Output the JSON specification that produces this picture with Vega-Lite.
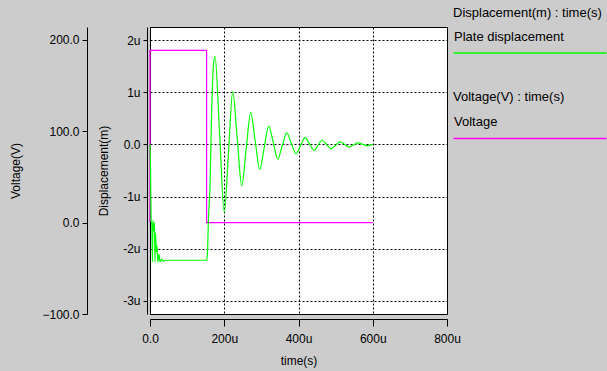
{
  "$schema": "https://vega.github.io/schema/vega-lite/v6.json",
  "width": 297,
  "height": 287,
  "autosize": {"type": "none"},
  "padding": {"left": 150, "top": 27, "right": 160, "bottom": 57},
  "background": "#cccccc",
  "config": {
    "view": {"fill": "#ffffff", "stroke": "#000000", "strokeWidth": 1},
    "font": "Liberation Sans",
    "axis": {
      "labelFont": "Liberation Sans", "titleFont": "Liberation Sans",
      "labelFontSize": 12, "titleFontSize": 12, "titleFontWeight": "normal",
      "labelColor": "#000000", "titleColor": "#000000",
      "domainColor": "#000000", "tickColor": "#000000",
      "gridColor": "#000000", "gridOpacity": 1, "gridDash": [2, 2], "gridWidth": 1
    },
    "legend": {
      "labelFont": "Liberation Sans", "titleFont": "Liberation Sans",
      "labelFontSize": 13, "titleFontSize": 13, "titleFontWeight": "normal",
      "labelColor": "#000000", "titleColor": "#000000", "padding": 0,
      "symbolOpacity": 1
    }
  },
  "datasets": {
    "voltage": [
      {"i": 0, "time_us": 0, "voltage_V": 0, "series": "Voltage"},
      {"i": 1, "time_us": 0, "voltage_V": 188.6, "series": "Voltage"},
      {"i": 2, "time_us": 152.5, "voltage_V": 188.6, "series": "Voltage"},
      {"i": 3, "time_us": 152.5, "voltage_V": 0, "series": "Voltage"},
      {"i": 4, "time_us": 600, "voltage_V": 0, "series": "Voltage"}
    ],
    "displacement": [
      {"i": 0, "time_us": 0, "disp_um": 0, "series": "Plate displacement"},
      {"i": 1, "time_us": 1.5, "disp_um": -0.5, "series": "Plate displacement"},
      {"i": 2, "time_us": 3, "disp_um": -1.45, "series": "Plate displacement"},
      {"i": 3, "time_us": 5, "disp_um": -1.55, "series": "Plate displacement"},
      {"i": 4, "time_us": 6.5, "disp_um": -2.25, "series": "Plate displacement"},
      {"i": 5, "time_us": 8, "disp_um": -1.45, "series": "Plate displacement"},
      {"i": 6, "time_us": 10, "disp_um": -1.65, "series": "Plate displacement"},
      {"i": 7, "time_us": 12, "disp_um": -1.5, "series": "Plate displacement"},
      {"i": 8, "time_us": 13.5, "disp_um": -2.25, "series": "Plate displacement"},
      {"i": 9, "time_us": 15, "disp_um": -1.7, "series": "Plate displacement"},
      {"i": 10, "time_us": 17, "disp_um": -2.05, "series": "Plate displacement"},
      {"i": 11, "time_us": 19, "disp_um": -1.95, "series": "Plate displacement"},
      {"i": 12, "time_us": 21, "disp_um": -2.25, "series": "Plate displacement"},
      {"i": 13, "time_us": 24, "disp_um": -2.1, "series": "Plate displacement"},
      {"i": 14, "time_us": 27, "disp_um": -2.25, "series": "Plate displacement"},
      {"i": 15, "time_us": 31, "disp_um": -2.2, "series": "Plate displacement"},
      {"i": 16, "time_us": 36, "disp_um": -2.24, "series": "Plate displacement"},
      {"i": 17, "time_us": 42, "disp_um": -2.22, "series": "Plate displacement"},
      {"i": 18, "time_us": 152.5, "disp_um": -2.22, "series": "Plate displacement"},
      {"i": 19, "time_us": 154, "disp_um": -2.15, "series": "Plate displacement"},
      {"i": 20, "time_us": 155.5, "disp_um": -1.95, "series": "Plate displacement"},
      {"i": 21, "time_us": 157, "disp_um": -1.5, "series": "Plate displacement"},
      {"i": 22, "time_us": 159, "disp_um": -1.2, "series": "Plate displacement"},
      {"i": 23, "time_us": 161.6, "disp_um": -0.82, "series": "Plate displacement"},
      {"i": 24, "time_us": 166, "disp_um": 0.6, "series": "Plate displacement"},
      {"i": 25, "time_us": 170.6, "disp_um": 1.49, "series": "Plate displacement"},
      {"i": 26, "time_us": 175, "disp_um": 1.69, "series": "Plate displacement"},
      {"i": 27, "time_us": 187.5, "disp_um": 0.2, "series": "Plate displacement"},
      {"i": 28, "time_us": 200.1, "disp_um": -1.3, "series": "Plate displacement"},
      {"i": 29, "time_us": 211.5, "disp_um": -0.15, "series": "Plate displacement"},
      {"i": 30, "time_us": 222.8, "disp_um": 1.01, "series": "Plate displacement"},
      {"i": 31, "time_us": 235, "disp_um": 0.11, "series": "Plate displacement"},
      {"i": 32, "time_us": 247, "disp_um": -0.79, "series": "Plate displacement"},
      {"i": 33, "time_us": 259, "disp_um": -0.09, "series": "Plate displacement"},
      {"i": 34, "time_us": 271.2, "disp_um": 0.61, "series": "Plate displacement"},
      {"i": 35, "time_us": 283.3, "disp_um": 0.07, "series": "Plate displacement"},
      {"i": 36, "time_us": 295.5, "disp_um": -0.48, "series": "Plate displacement"},
      {"i": 37, "time_us": 307.6, "disp_um": -0.06, "series": "Plate displacement"},
      {"i": 38, "time_us": 319.7, "disp_um": 0.35, "series": "Plate displacement"},
      {"i": 39, "time_us": 332, "disp_um": 0.035, "series": "Plate displacement"},
      {"i": 40, "time_us": 344, "disp_um": -0.28, "series": "Plate displacement"},
      {"i": 41, "time_us": 356, "disp_um": -0.03, "series": "Plate displacement"},
      {"i": 42, "time_us": 368.2, "disp_um": 0.22, "series": "Plate displacement"},
      {"i": 43, "time_us": 380.7, "disp_um": 0.02, "series": "Plate displacement"},
      {"i": 44, "time_us": 393.3, "disp_um": -0.18, "series": "Plate displacement"},
      {"i": 45, "time_us": 405.4, "disp_um": -0.025, "series": "Plate displacement"},
      {"i": 46, "time_us": 417.5, "disp_um": 0.13, "series": "Plate displacement"},
      {"i": 47, "time_us": 429.7, "disp_um": 0.01, "series": "Plate displacement"},
      {"i": 48, "time_us": 442, "disp_um": -0.115, "series": "Plate displacement"},
      {"i": 49, "time_us": 452.5, "disp_um": -0.02, "series": "Plate displacement"},
      {"i": 50, "time_us": 463, "disp_um": 0.08, "series": "Plate displacement"},
      {"i": 51, "time_us": 475.5, "disp_um": 0, "series": "Plate displacement"},
      {"i": 52, "time_us": 488, "disp_um": -0.08, "series": "Plate displacement"},
      {"i": 53, "time_us": 500, "disp_um": -0.015, "series": "Plate displacement"},
      {"i": 54, "time_us": 512.5, "disp_um": 0.05, "series": "Plate displacement"},
      {"i": 55, "time_us": 524.5, "disp_um": 0, "series": "Plate displacement"},
      {"i": 56, "time_us": 536.5, "disp_um": -0.05, "series": "Plate displacement"},
      {"i": 57, "time_us": 548.7, "disp_um": -0.01, "series": "Plate displacement"},
      {"i": 58, "time_us": 561, "disp_um": 0.03, "series": "Plate displacement"},
      {"i": 59, "time_us": 573, "disp_um": 0.0025, "series": "Plate displacement"},
      {"i": 60, "time_us": 585, "disp_um": -0.025, "series": "Plate displacement"},
      {"i": 61, "time_us": 592.5, "disp_um": -0.0125, "series": "Plate displacement"},
      {"i": 62, "time_us": 600, "disp_um": 0, "series": "Plate displacement"}
    ]
  },
  "encoding": {
    "x": {
      "field": "time_us", "type": "quantitative",
      "scale": {"domain": [0, 800], "nice": false},
      "axis": {
        "title": "time(s)", "values": [0, 200, 400, 600, 800],
        "labelExpr": "datum.value == 0 ? '0.0' : datum.value + 'u'",
        "offset": 5, "tickSize": 7, "labelPadding": 7, "titlePadding": 11,
        "grid": true, "labelFlush": false, "labelOverlap": false
      }
    }
  },
  "layer": [
    {
      "data": {"name": "voltage"},
      "mark": {"type": "line", "strokeWidth": 1.2, "interpolate": "linear"},
      "encoding": {
        "order": {"field": "i", "type": "quantitative"},
        "y": {
          "field": "voltage_V", "type": "quantitative",
          "scale": {"domain": [-100, 214.2], "nice": false, "zero": false},
          "axis": {
            "orient": "left", "offset": 63, "title": "Voltage(V)",
            "values": [-100, 0, 100, 200], "format": ".1f", "grid": false,
            "tickSize": 5, "labelPadding": 3, "titlePadding": 19
          }
        },
        "stroke": {
          "field": "series", "type": "nominal",
          "scale": {"domain": ["Voltage"], "range": ["#ff00ff"]},
          "legend": {
            "title": "Voltage(V) : time(s)", "orient": "none",
            "legendX": 303, "legendY": 64,
            "symbolType": "M-1.2,3.4L29.4,3.4", "symbolSize": 100,
            "symbolStrokeWidth": 1.3, "symbolStrokeColor": "#e020e0",
            "labelOffset": -12, "titlePadding": 11
          }
        }
      }
    },
    {
      "data": {"name": "displacement"},
      "mark": {"type": "line", "strokeWidth": 1.2, "interpolate": "monotone"},
      "encoding": {
        "order": {"field": "i", "type": "quantitative"},
        "y": {
          "field": "disp_um", "type": "quantitative",
          "scale": {"domain": [-3.25, 2.25], "nice": false, "zero": false},
          "axis": {
            "orient": "left", "offset": 3, "title": "Displacement(m)",
            "values": [-3, -2, -1, 0, 1, 2],
            "labelExpr": "datum.value == 0 ? '0.0' : datum.value + 'u'",
            "grid": true, "tickSize": 4, "labelPadding": 3, "titlePadding": 12
          }
        },
        "color": {
          "field": "series", "type": "nominal",
          "scale": {"domain": ["Plate displacement"], "range": ["#00ff00"]},
          "legend": {
            "title": "Displacement(m) : time(s)", "orient": "none",
            "legendX": 303, "legendY": -20,
            "symbolType": "M-1.2,3.3L29.4,3.3", "symbolSize": 100,
            "symbolStrokeWidth": 1.6, "symbolStrokeColor": "#11ee11",
            "labelOffset": -12, "titlePadding": 10
          }
        }
      }
    }
  ],
  "resolve": {"scale": {"y": "independent", "color": "independent", "stroke": "independent"}}
}
